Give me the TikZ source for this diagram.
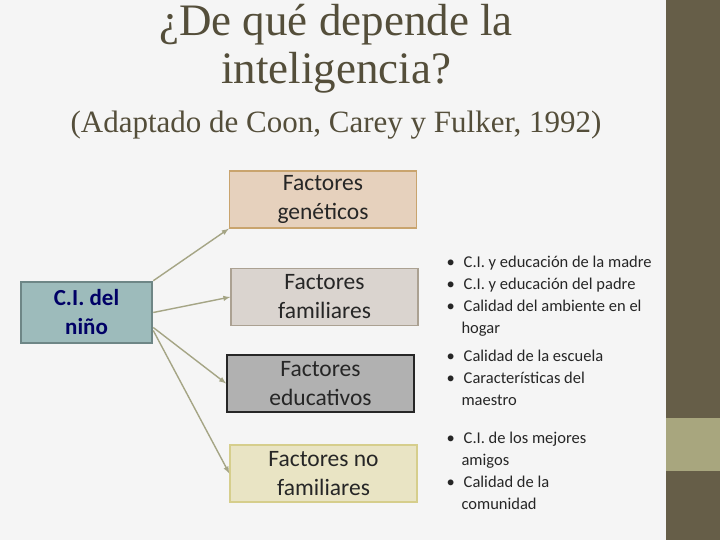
\documentclass[tikz,border=0pt]{standalone}
\usepackage{fontspec}
\setmainfont{Carlito}
\newfontfamily\titlefont{Liberation Serif}
\usetikzlibrary{positioning}

\definecolor{olive}{HTML}{665E48}
\definecolor{oliveband}{HTML}{A8A67E}
\definecolor{arrowc}{HTML}{A5A585}
\definecolor{textc}{HTML}{262626}
\definecolor{genfill}{HTML}{E6D1BD}
\definecolor{gendraw}{HTML}{C9A46E}
\definecolor{famfill}{HTML}{DAD4CF}
\definecolor{famdraw}{HTML}{ABA192}
\definecolor{edufill}{HTML}{B1B1B1}
\definecolor{nofill}{HTML}{E9E4C4}
\definecolor{nodraw}{HTML}{D6CE8C}
\definecolor{cifill}{HTML}{9DBBBB}
\definecolor{cidraw}{HTML}{6E8686}
\definecolor{titlec}{HTML}{544E3A}

\tikzset{
  factor/.style={draw, line width=1.3pt, minimum width=187pt, minimum height=57pt,
    align=center, font=\fontsize{23.5}{29}\selectfont, text=textc},
  bullets/.style={anchor=north west, align=left,
    font=\fontsize{16.5}{22}\selectfont, text=textc},
  link/.style={draw=arrowc, line width=1.4pt, -latex}
}

\begin{document}
\begin{tikzpicture}[x=1pt, y=-1pt]

  % Background and sidebar
  \fill[gray!8] (0,0) rectangle (720,540);
  \fill[olive] (666,0) rectangle (720,540);
  \fill[oliveband] (666,418) rectangle (720,471);
  \useasboundingbox (0,0) rectangle (720,540);

  % Title
  \node[text=titlec, align=center, font=\titlefont\fontsize{45}{48}\selectfont]
    (title) at (336,49) {¿De qué depende la\\inteligencia?};
  \node[text=titlec, font=\titlefont\fontsize{31}{34}\selectfont]
    (sub) at (336,125) {(Adaptado de Coon, Carey y Fulker, 1992)};

  % Define nodes
  \node[draw=cidraw, line width=2.5pt, fill=cifill, minimum width=131pt,
    minimum height=61pt, align=center, text={blue!40!black},
    font=\bfseries\fontsize{23}{29}\selectfont] (ci) at (86.5,312.5) {C.I. del\\niño};
  \node[factor, draw=gendraw, fill=genfill] (gen) at (323,199.5) {Factores\\genéticos};
  \node[factor, draw=famdraw, fill=famfill] (fam) at (324.5,297) {Factores\\familiares};
  \node[factor, draw=black!85, line width=1.8pt, fill=edufill] (edu) at (320.5,383.5) {Factores\\educativos};
  \node[factor, draw=nodraw, fill=nofill] (nof) at (323.5,473.5) {Factores no\\familiares};

  % Bullet lists
  \node[bullets] (lfam) at (443,253) {\textbullet\hspace{9pt}C.I. y educación de la madre\\
    \textbullet\hspace{9pt}C.I. y educación del padre\\
    \textbullet\hspace{9pt}Calidad del ambiente en el\\\hspace*{15pt}hogar};
  \node[bullets] (ledu) at (443,347) {\textbullet\hspace{9pt}Calidad de la escuela\\
    \textbullet\hspace{9pt}Características del\\\hspace*{15pt}maestro};
  \node[bullets] (lnof) at (443,429) {\textbullet\hspace{9pt}C.I. de los mejores\\\hspace*{15pt}amigos\\
    \textbullet\hspace{9pt}Calidad de la\\\hspace*{15pt}comunidad};

  % Connect the nodes
  \draw[link] (ci.north east) -- (gen.south west);
  \draw[link] (ci.east) -- (fam.west);
  \draw[link] ([yshift=-15pt]ci.east) -- (edu.west);
  \draw[link] ([yshift=-18pt]ci.east) -- (nof.west);

\end{tikzpicture}
\end{document}
